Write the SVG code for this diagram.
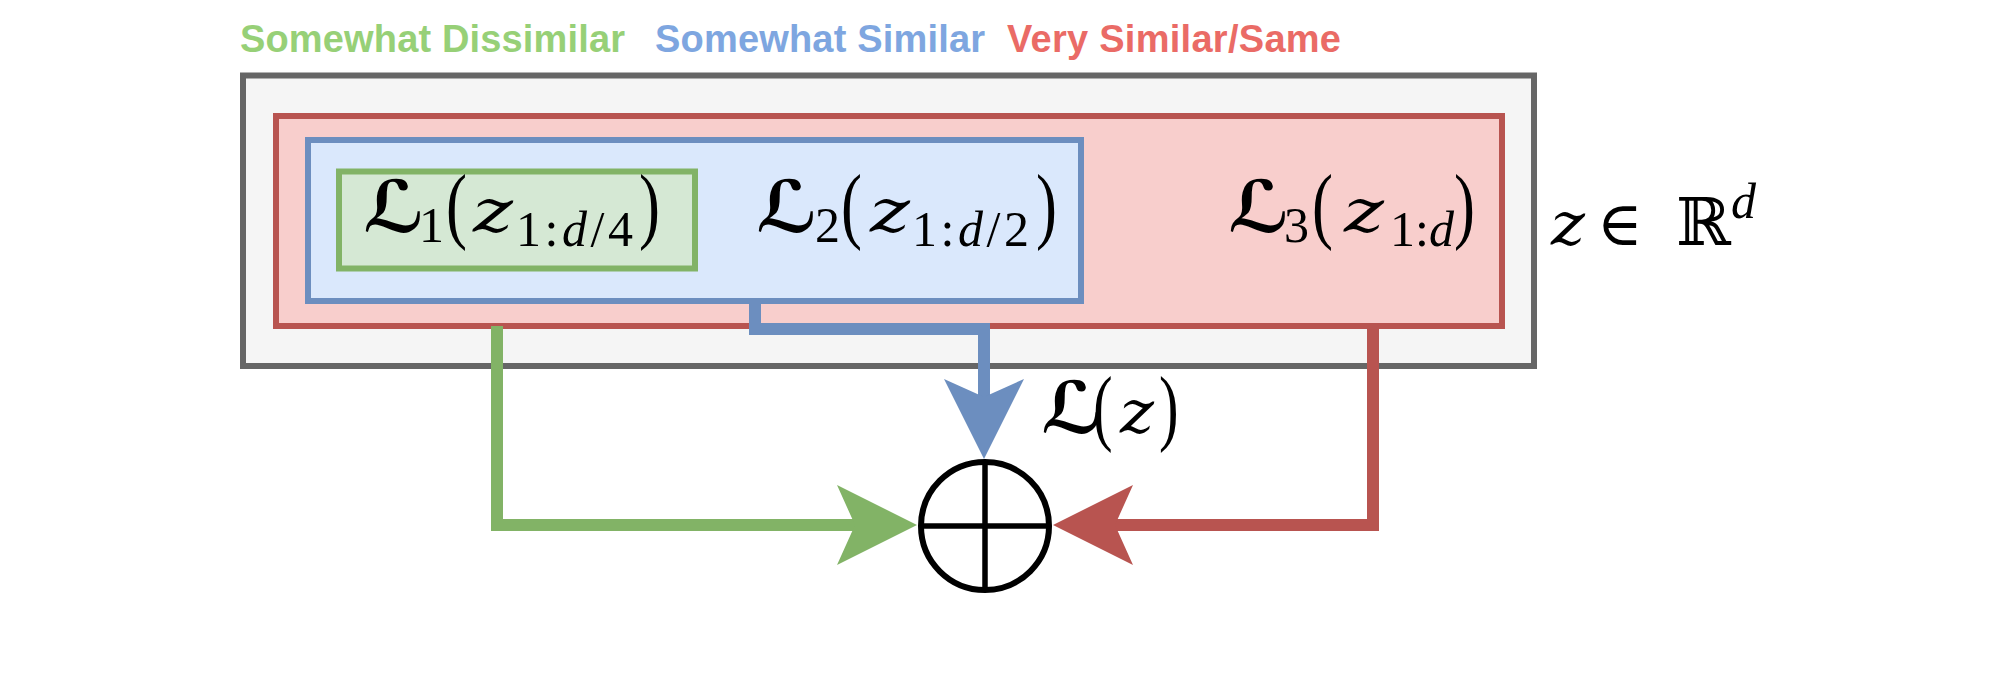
<svg xmlns="http://www.w3.org/2000/svg" width="1989" height="684" viewBox="0 0 1989 684">
<style>
.hdr{font-family:"Liberation Sans",Arial,Helvetica,sans-serif;font-weight:bold;font-size:38px}
.m{font-family:"Liberation Serif","DejaVu Serif",serif;fill:#000}
.cal{font-family:"DejaVu Serif","DejaVu Sans",serif;font-size:72px;font-style:italic;font-weight:bold}
.zv{font-family:"DejaVu Serif","Liberation Serif",serif;font-style:italic;font-size:60px;fill:#000}
.it{font-style:italic}
.big{font-size:72px}
.sub{font-size:50px}
.par{font-size:84px}
.sym{font-family:"DejaVu Serif","DejaVu Sans",serif;fill:#000}
.conn{fill:none;stroke-width:12;stroke-linejoin:miter;stroke-linecap:butt}
.box{stroke-width:6}
</style>
<defs>
<marker id="ah-g" markerUnits="userSpaceOnUse" markerWidth="80" markerHeight="80" viewBox="0 0 80 80" refX="18" refY="40" orient="auto"><path d="M0,0 L80,40 L0,80 L18,40 Z" fill="#82b366"/></marker>
<marker id="ah-r" markerUnits="userSpaceOnUse" markerWidth="80" markerHeight="80" viewBox="0 0 80 80" refX="18" refY="40" orient="auto"><path d="M0,0 L80,40 L0,80 L18,40 Z" fill="#b85450"/></marker>
<marker id="ah-b" markerUnits="userSpaceOnUse" markerWidth="80" markerHeight="80" viewBox="0 0 80 80" refX="18" refY="40" orient="auto"><path d="M0,0 L80,40 L0,80 L18,40 Z" fill="#6c8ebf"/></marker>
</defs>
<rect width="1989" height="684" fill="#ffffff"/>

<g id="legend">
<text class="hdr" x="240" y="52" fill="#97D077" textLength="385">Somewhat Dissimilar</text>
<text class="hdr" x="655" y="52" fill="#7EA6E0" textLength="330">Somewhat Similar</text>
<text class="hdr" x="1007" y="52" fill="#EA6B66" textLength="334">Very Similar/Same</text>
</g>

<g id="space">
<rect class="box" x="243" y="75.5" width="1291" height="290.5" fill="#f5f5f5" stroke="#666666"/>
<text class="zv" x="1551" y="245" textLength="34" lengthAdjust="spacingAndGlyphs">z</text>
<text class="sym" x="1597" y="245" font-size="62">∈</text>
<text class="sym" x="1676" y="245" font-size="66">ℝ</text>
<text class="m it sub" x="1731" y="218">d</text>
</g>

<g id="loss3">
<rect class="box" x="276" y="116" width="1226" height="210" fill="#f8cecc" stroke="#b85450"/>
<text class="cal" x="1228" y="232">ℒ</text>
<text class="m sub" x="1284" y="242">3</text>
<text class="m par" transform="translate(1312,233) scale(0.75,1)">(</text>
<text class="zv" x="1344" y="232" textLength="40" lengthAdjust="spacingAndGlyphs">z</text>
<text class="m sub" x="1390" y="246">1:<tspan class="it">d</tspan></text>
<text class="m par" transform="translate(1454,233) scale(0.75,1)">)</text>
</g>

<g id="loss2">
<rect class="box" x="308" y="140" width="773" height="161" fill="#dae8fc" stroke="#6c8ebf"/>
<text class="cal" x="756" y="232">ℒ</text>
<text class="m sub" x="815" y="242">2</text>
<text class="m par" transform="translate(841,233) scale(0.75,1)">(</text>
<text class="zv" x="870" y="232" textLength="40" lengthAdjust="spacingAndGlyphs">z</text>
<text class="m sub" x="912" y="246" textLength="117">1:<tspan class="it">d</tspan>/2</text>
<text class="m par" transform="translate(1036,233) scale(0.75,1)">)</text>
</g>

<g id="loss1">
<rect class="box" x="339" y="171.5" width="356" height="97" fill="#d5e8d4" stroke="#82b366"/>
<text class="cal" x="363" y="232">ℒ</text>
<text class="m sub" x="419" y="242">1</text>
<text class="m par" transform="translate(446,233) scale(0.75,1)">(</text>
<text class="zv" x="473" y="232" textLength="40" lengthAdjust="spacingAndGlyphs">z</text>
<text class="m sub" x="516" y="246" textLength="117">1:<tspan class="it">d</tspan>/4</text>
<text class="m par" transform="translate(639,233) scale(0.75,1)">)</text>
</g>

<g id="connectors">
<path class="conn" d="M497,326 V525 H855" stroke="#82b366" marker-end="url(#ah-g)"/>
<path class="conn" d="M1373,326 V525 H1115" stroke="#b85450" marker-end="url(#ah-r)"/>
<path class="conn" d="M755,301 V329 H984 V397" stroke="#6c8ebf" marker-end="url(#ah-b)"/>
</g>

<g id="sum">
<circle cx="985" cy="526" r="64" fill="#ffffff" stroke="#000000" stroke-width="6"/>
<line x1="985" y1="463" x2="985" y2="589" stroke="#000000" stroke-width="5.5"/>
<line x1="922" y1="526" x2="1048" y2="526" stroke="#000000" stroke-width="5.5"/>
</g>

<g id="total">
<text class="cal" x="1041" y="433">ℒ</text>
<text class="m par" transform="translate(1093,435) scale(0.7,1)">(</text>
<text class="zv" x="1120" y="433" textLength="34" lengthAdjust="spacingAndGlyphs">z</text>
<text class="m par" transform="translate(1159,435) scale(0.7,1)">)</text>
</g>
</svg>
